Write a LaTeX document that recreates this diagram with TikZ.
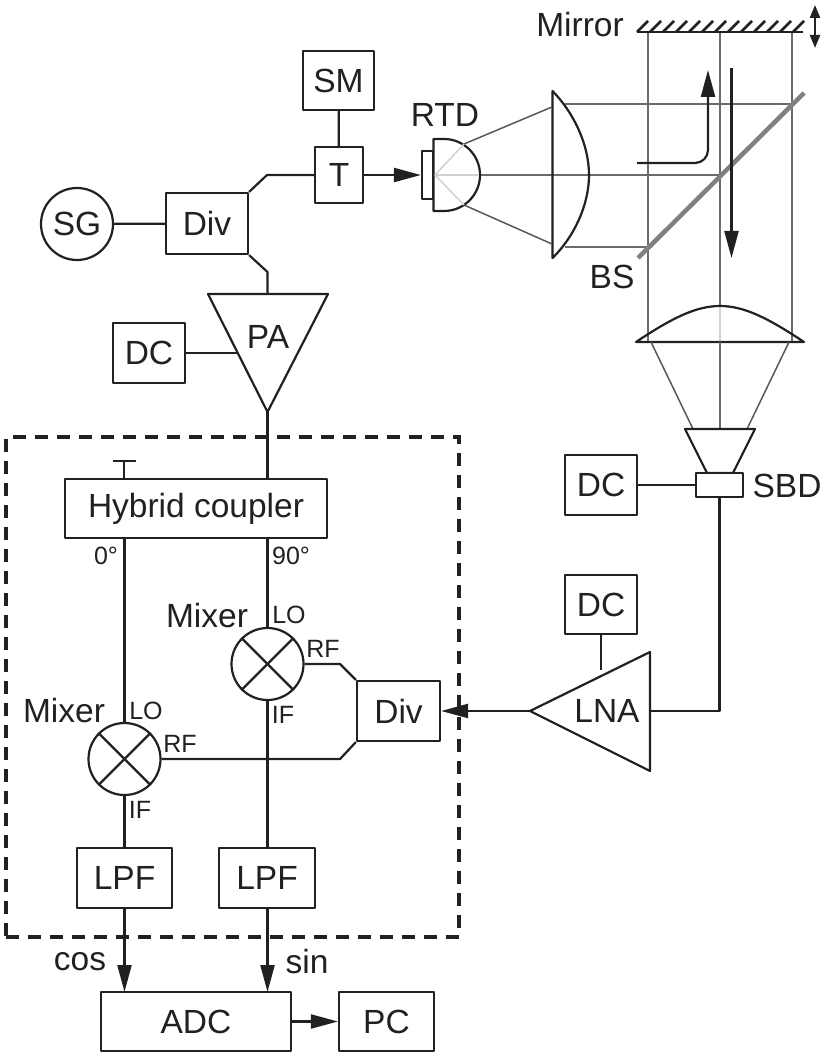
\documentclass[tikz,border=0pt]{standalone}
\usepackage{fontspec}
\setmainfont{Liberation Sans}
\usetikzlibrary{arrows.meta,calc}
\definecolor{ink}{gray}{0.13}
\definecolor{beam}{gray}{0.42}
\tikzset{
  x=1pt,y=-1pt,
  wire/.style={draw=ink,line width=2.2pt,line join=round},
  beamline/.style={draw=beam,line width=1.9pt},
  faint/.style={draw=black!18,line width=1.5pt},
  fan/.style={draw=ink!75,line width=1.5pt},
  head/.style={wire,-{Triangle[length=27pt,width=14pt]}},
  lbl/.style={font=\fontsize{33.5}{33.5}\selectfont,text=ink,inner sep=0pt},
  small/.style={font=\fontsize{25}{25}\selectfont,text=ink,inner sep=0pt},
  block/.style={wire,rectangle,inner sep=0pt,font=\fontsize{33.5}{33.5}\selectfont,text=ink,fill=white},
  mixer/.style={wire,circle,minimum size=72pt,inner sep=0pt,fill=white},
}
\begin{document}
\begin{tikzpicture}
\useasboundingbox[fill=white] (0,0) rectangle (825,1056);

% --- optical beams
\coordinate (mL) at (648,32); \coordinate (mC) at (720,32); \coordinate (mR) at (792,32);
\coordinate (bsL) at (648,247); \coordinate (bsC) at (720,175); \coordinate (bsR) at (792,104);
\coordinate (lensL) at (648,342); \coordinate (lensC) at (720,342); \coordinate (lensR) at (792,342);
\coordinate (lensTL) at (565,104); \coordinate (lensTC) at (480,175); \coordinate (lensTB) at (565,247);
\draw[beamline] (mL) -- (lensL);
\draw[beamline] (mC) -- (lensC);
\draw[beamline] (mR) -- (lensR);
\draw[beamline] (lensTL) -- (bsR);
\draw[beamline] (lensTC) -- (bsC);
\draw[beamline] (lensTB) -- (bsL);
\draw[line width=4.5pt,draw=black!50] (638,258) -- (804,93);

% --- second lens and horn
\draw[wire] (636,342) .. controls (672,318) and (696,306) .. (720,306) .. controls (744,306) and (768,318) .. (804,342) -- cycle;
\draw[faint] (720,307) -- (720,341);
\draw[fan] (651,342) -- (693,429);
\draw[fan] (789,342) -- (747,429);
\draw[beamline] (lensC) -- (720,429);
\draw[wire] (685,429) -- (755,429) -- (733,473) -- (707,473) -- cycle;

% --- first lens
\draw[wire] (552.5,91) .. controls (574,113) and (589,145) .. (589,175) .. controls (589,205) and (574,237) .. (552.5,258) -- cycle;
\draw[fan] (464,144) -- (552,107);
\draw[fan] (464,205) -- (552,244);

% --- RTD
\draw[wire] (433.5,139) -- (444,139) arc[start angle=-90,end angle=90,radius=36] -- (433.5,211) -- cycle;
\draw[faint] (435,175) -- (464,144);
\draw[faint] (435,175) -- (464,205);
\draw[faint] (435,175) -- (478,175);
\node[block,minimum width=11pt,minimum height=48pt] (rtd) at (427.5,175) {};
\node[lbl] (rtdl) at (445,115) {RTD};

% --- mirror
\draw[wire] (637,32) -- (803,32);
\foreach \hx in {637,650,...,793}{\draw[draw=ink,line width=2.6pt] (\hx,32) -- (\hx+11,21);}
\draw[wire,{Triangle[length=13pt,width=10pt]}-{Triangle[length=13pt,width=10pt]}] (815,5) -- (815,48);
\node[lbl] (mirror) at (580,25) {Mirror};
\node[lbl] (bs) at (612,277) {BS};

% --- direction arrows
\coordinate (upA) at (637,163); \coordinate (upB) at (708,163); \coordinate (upC) at (708,70);
\draw[head,rounded corners=13pt] (upA) -- (upB) -- (upC);
\coordinate (dnA) at (731.5,68); \coordinate (dnB) at (731.5,258);
\draw[head] (dnA) -- (dnB);

% --- dashed enclosure
\node[draw=ink,line width=4pt,dash pattern=on 13pt off 9pt,minimum width=453pt,minimum height=500pt,inner sep=0pt] (box) at (232.5,687) {};

% --- source chain
\node[block,circle,minimum size=72pt] (sg) at (77,224) {SG};
\node[block,minimum width=82pt,minimum height=61pt] (div1) at (207,223.5) {Div};
\node[block,minimum width=48pt,minimum height=56pt] (t) at (339,175) {T};
\node[block,minimum width=71pt,minimum height=59pt] (sm) at (338.5,80.5) {SM};
\draw[wire] (sg) -- (div1);
\draw[wire] (sm) -- (t);
\draw[wire] (div1.north east) -- (267,175) -- (t.west);
\draw[head] (t.east) -- (rtd.west);

% --- PA
\coordinate (paT) at (267.5,294);
\coordinate (paB) at (267.5,412);
\coordinate (paL) at (238,353);
\draw[wire] (208,294) -- (328,294) -- (paB) -- cycle;
\node[lbl] (pa) at (268,337) {PA};
\node[block,minimum width=72pt,minimum height=60pt] (dc1) at (149,353) {DC};
\draw[wire] (dc1) -- (paL);
\draw[wire] (div1.south east) -- (267.5,272) -- (paT);

% --- hybrid
\node[block,minimum width=262pt,minimum height=59pt] (hyb) at (196,508.5) {Hybrid coupler};
\coordinate (hybT) at (124,461);
\draw[wire] (124,479) -- (hybT);
\draw[wire] (113,461) -- (136,461);
\draw[wire] (paB) -- (267.5,479);
\node[small] (deg0) at (106,556) {0°};
\node[small] (deg90) at (291,556) {90°};

% --- mixers
\node[mixer] (mxU) at (267.5,664) {};
\node[mixer] (mxL) at (124.5,759) {};
\draw[wire] (mxU.north west) -- (mxU.south east);
\draw[wire] (mxU.north east) -- (mxU.south west);
\draw[wire] (mxL.north west) -- (mxL.south east);
\draw[wire] (mxL.north east) -- (mxL.south west);
\node[lbl] (mlU) at (207,616) {Mixer};
\node[lbl] (mlL) at (64,711) {Mixer};
\node[small] (loU) at (289,615) {LO};
\node[small] (loL) at (146,711) {LO};
\node[small] (rfU) at (323,649) {RF};
\node[small] (rfL) at (180,744) {RF};
\node[small] (ifU) at (283,715) {IF};
\node[small] (ifL) at (140,810) {IF};

% --- LPF, ADC, PC
\node[block,minimum width=95pt,minimum height=60pt] (lpfL) at (124.5,878) {LPF};
\node[block,minimum width=96pt,minimum height=60pt] (lpfR) at (267,878) {LPF};
\node[block,minimum width=190pt,minimum height=59pt] (adc) at (196,1021.5) {ADC};
\node[block,minimum width=95pt,minimum height=59pt] (pc) at (386.5,1021.5) {PC};
\coordinate (adcL) at (124.5,992); \coordinate (adcR) at (267.5,992);
\draw[wire] (267.5,538) -- (mxU);
\draw[wire] (124.5,538) -- (mxL);
\draw[wire] (mxU) -- (267.5,848);
\draw[wire] (mxL) -- (124.5,848);
\draw[head] (124.5,908) -- (adcL);
\draw[head] (267.5,908) -- (adcR);
\draw[head] (adc) -- (pc);
\node[lbl] (cos) at (80,962) {cos};
\node[lbl] (sin) at (307,962) {sin};

% --- Div 2 and LNA
\node[block,minimum width=83pt,minimum height=60pt] (div2) at (398.5,711) {Div};
\draw[wire] (mxU.east) -- (340,664) -- (div2.north west);
\draw[wire] (mxL.east) -- (340,759) -- (div2.south west);
\coordinate (lnaTip) at (530,711);
\coordinate (lnaR) at (650,711);
\coordinate (lnaTop) at (601,670);
\draw[wire] (lnaTip) -- (650,652) -- (650,771) -- cycle;
\node[lbl] (lna) at (607,711) {LNA};
\draw[head] (lnaTip) -- (div2.east);
\node[block,minimum width=72pt,minimum height=59pt] (dc3) at (601,604.5) {DC};
\draw[wire] (dc3) -- (lnaTop);

% --- SBD
\node[block,minimum width=47pt,minimum height=24pt] (sbd) at (719.5,485) {};
\node[block,minimum width=72pt,minimum height=60pt] (dc2) at (601,485) {DC};
\node[lbl] (sbdl) at (787,486) {SBD};
\draw[wire] (dc2) -- (sbd);
\draw[wire] (sbd.south) -- (719.5,711) -- (lnaR);
\end{tikzpicture}
\end{document}
